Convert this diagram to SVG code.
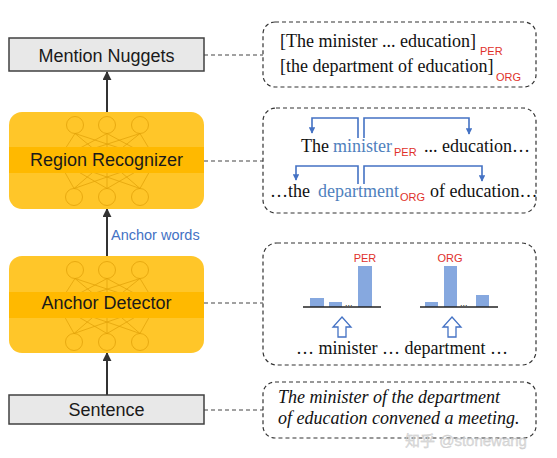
<svg xmlns="http://www.w3.org/2000/svg" xmlns:xlink="http://www.w3.org/1999/xlink" width="557" height="458" viewBox="0 0 557 458">
<style>
.lbl{font-family:"Liberation Sans",Arial,sans-serif;font-size:18px;fill:#1a1a1a;text-anchor:middle}
.gbox{fill:#e8e8e8;stroke:#404040;stroke-width:1.5}
.ybox{fill:#FFC629}
.band{fill:#FFB900}
.net line{stroke:#E2A30A;stroke-width:1;opacity:0.75}
.net circle{fill:none;stroke:#E2A30A;stroke-width:1;opacity:0.8}
.dbox{fill:#fff;stroke:#333;stroke-width:1.2;stroke-dasharray:4 3}
.dash{stroke:#444;stroke-width:1.2;stroke-dasharray:4 3;fill:none}
.arr{stroke:#333;stroke-width:2;fill:none}
.tm{font-family:"Liberation Serif","Times New Roman",serif;font-size:18px;fill:#111}
.it{font-style:italic}
.bl{fill:#4F81BD}
.red{font-family:"Liberation Sans",Arial,sans-serif;font-size:11px;fill:#E0312B}
.bar{fill:#86A8DF}
.axis{stroke:#222;stroke-width:1.5}
.barr{stroke:#4472C4;stroke-width:1.6;fill:none}
.hol{fill:#fff;stroke:#4472C4;stroke-width:1.3}
</style>
<defs>
<marker id="ah" viewBox="0 0 10 10" refX="9" refY="5" markerWidth="4.5" markerHeight="4.5" orient="auto">
<path d="M0,0 L10,5 L0,10 z" fill="#333"/>
</marker>
<marker id="bh" viewBox="0 0 10 10" refX="9" refY="5" markerWidth="4" markerHeight="4" orient="auto">
<path d="M0,0 L10,5 L0,10 z" fill="#4472C4"/>
</marker>
<g id="net" class="net">
<circle cx="75" cy="13" r="8.5"/><circle cx="107" cy="13" r="8.5"/><circle cx="140" cy="13" r="8.5"/>
<circle cx="74" cy="85" r="8.5"/><circle cx="107" cy="85" r="8.5"/><circle cx="140" cy="85" r="8.5"/>
<line x1="75" y1="21.5" x2="58" y2="48"/><line x1="75" y1="21.5" x2="107" y2="48"/><line x1="75" y1="21.5" x2="156" y2="48"/>
<line x1="107" y1="21.5" x2="58" y2="48"/><line x1="107" y1="21.5" x2="107" y2="48"/><line x1="107" y1="21.5" x2="156" y2="48"/>
<line x1="140" y1="21.5" x2="58" y2="48"/><line x1="140" y1="21.5" x2="107" y2="48"/><line x1="140" y1="21.5" x2="156" y2="48"/>
<line x1="74" y1="76.5" x2="58" y2="48"/><line x1="74" y1="76.5" x2="107" y2="48"/><line x1="74" y1="76.5" x2="156" y2="48"/>
<line x1="107" y1="76.5" x2="58" y2="48"/><line x1="107" y1="76.5" x2="107" y2="48"/><line x1="107" y1="76.5" x2="156" y2="48"/>
<line x1="140" y1="76.5" x2="58" y2="48"/><line x1="140" y1="76.5" x2="107" y2="48"/><line x1="140" y1="76.5" x2="156" y2="48"/>
</g>
</defs>
<rect width="557" height="458" fill="#fff"/>

<g id="connectors">
<line class="arr" x1="107" y1="112" x2="107" y2="72" marker-end="url(#ah)"/>
<line class="arr" x1="107" y1="256" x2="107" y2="209" marker-end="url(#ah)"/>
<line class="arr" x1="107" y1="395" x2="107" y2="353" marker-end="url(#ah)"/>
<text x="111" y="240" font-family="Liberation Sans,Arial,sans-serif" font-size="14.5" fill="#4472C4">Anchor words</text>
<line class="dash" x1="204" y1="55" x2="263" y2="55"/>
<line class="dash" x1="204" y1="161" x2="263" y2="161"/>
<line class="dash" x1="204" y1="303" x2="263" y2="303"/>
<line class="dash" x1="204" y1="410" x2="263" y2="410"/>
</g>

<g id="mention-nuggets">
<rect class="gbox" x="9" y="38" width="195" height="33"/>
<text class="lbl" x="106.5" y="62">Mention Nuggets</text>
</g>

<g id="region-recognizer">
<rect class="ybox" x="9" y="112" width="195" height="97" rx="13"/>
<use xlink:href="#net" transform="translate(0,112)"/>
<rect class="band" x="9" y="147" width="195" height="26"/>
<text class="lbl" x="106.5" y="166">Region Recognizer</text>
</g>

<g id="anchor-detector">
<rect class="ybox" x="9" y="256" width="195" height="97" rx="13"/>
<use xlink:href="#net" transform="translate(0,257)"/>
<rect class="band" x="9" y="292" width="195" height="26"/>
<text class="lbl" x="106.5" y="309">Anchor Detector</text>
</g>

<g id="sentence">
<rect class="gbox" x="9" y="395" width="195" height="29"/>
<text class="lbl" x="106.5" y="416">Sentence</text>
</g>

<g id="nuggets-example">
<rect class="dbox" x="263" y="22" width="273" height="65" rx="12"/>
<text class="tm" x="280" y="47">[The minister ... education]</text>
<text class="red" x="480" y="55">PER</text>
<text class="tm" x="280" y="72">[the department of education]</text>
<text class="red" x="496" y="81" font-size="12">ORG</text>
</g>

<g id="region-example">
<rect class="dbox" x="263" y="108" width="273" height="105" rx="13"/>
<path class="barr" d="M358,138 V118 H312 V133" marker-end="url(#bh)"/>
<path class="barr" d="M364,138 V118 H469 V134" marker-end="url(#bh)"/>
<text class="tm" x="301" y="152">The</text>
<text class="tm bl" x="333" y="152">minister</text>
<text class="red" x="394" y="156" font-size="12">PER</text>
<text class="tm" x="424" y="152">... education…</text>
<path class="barr" d="M358,184 V166 H296 V180" marker-end="url(#bh)"/>
<path class="barr" d="M364,184 V166 H482 V181" marker-end="url(#bh)"/>
<text class="tm" x="270" y="197">…the</text>
<text class="tm bl" x="318" y="197">department</text>
<text class="red" x="400" y="201" font-size="12">ORG</text>
<text class="tm" x="430" y="197">of education…</text>
</g>

<g id="anchor-example">
<rect class="dbox" x="263" y="243" width="273" height="122" rx="14"/>
<rect class="bar" x="310" y="298" width="14" height="9"/>
<rect class="bar" x="329" y="302" width="13" height="5"/>
<rect class="bar" x="358" y="266" width="14" height="41"/>
<text x="345" y="306" font-family="Liberation Sans,Arial,sans-serif" font-size="9" fill="#333">...</text>
<line class="axis" x1="303" y1="307" x2="381" y2="307"/>
<text class="red" x="365" y="262" font-size="12" text-anchor="middle">PER</text>
<rect class="bar" x="425" y="302" width="13" height="5"/>
<rect class="bar" x="444" y="266" width="13" height="41"/>
<rect class="bar" x="476" y="295" width="13" height="12"/>
<text x="460" y="306" font-family="Liberation Sans,Arial,sans-serif" font-size="9" fill="#333">...</text>
<line class="axis" x1="420" y1="307" x2="498" y2="307"/>
<text class="red" x="450" y="262" font-size="12" text-anchor="middle">ORG</text>
<path class="hol" d="M342,317 L351,327 L346,327 L346,337 L338,337 L338,327 L333,327 Z"/>
<path class="hol" d="M452,317 L461,327 L456,327 L456,337 L448,337 L448,327 L443,327 Z"/>
<text class="tm" x="402" y="354" font-size="17" text-anchor="middle">… minister … department …</text>
</g>

<g id="sentence-example">
<rect class="dbox" x="263" y="382" width="273" height="56" rx="12"/>
<text class="tm it" x="278" y="403" font-size="17.5">The minister of the department</text>
<text class="tm it" x="278" y="424" font-size="17.5">of education convened a meeting.</text>
</g>

<text x="405" y="446" font-family="Liberation Sans,Noto Sans CJK SC,sans-serif" font-size="15" fill="#d8d8d8" opacity="0.85" stroke="#bbb" stroke-width="0.3">知乎 @stonewang</text>
</svg>
